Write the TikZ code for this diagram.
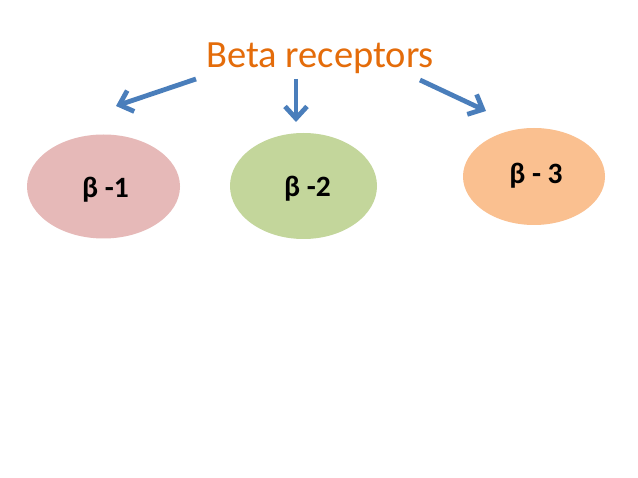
\documentclass[tikz,border=0pt]{standalone}
\usepackage{fontspec}
\setmainfont{Carlito}
\usetikzlibrary{arrows.meta}
\definecolor{titleorange}{HTML}{E46C0A}
\definecolor{arrowblue}{HTML}{4A7EBB}
\definecolor{pinkfill}{HTML}{E6B9B8}
\definecolor{greenfill}{HTML}{C3D69B}
\definecolor{orangefill}{HTML}{FAC090}
\begin{document}
\begin{tikzpicture}[x=1pt,y=-1pt,
  lbl/.style={font=\fontsize{29.5}{29.5}\selectfont\bfseries,anchor=base,inner sep=0pt},
  conn/.style={draw=arrowblue,line width=4.8pt,-{Straight Barb[length=12pt,width=22pt,line cap=butt]}}]
\useasboundingbox[fill=white] (0,0) rectangle (638,478);
\fill[pinkfill] (103.5,186.5) ellipse [x radius=76.5, y radius=52];
\fill[greenfill] (303.5,186) ellipse [x radius=73.5, y radius=53];
\fill[orangefill] (534,176.5) ellipse [x radius=71, y radius=48.5];
\node[lbl] (b1) at (105.5,197.5) {β -1};
\node[lbl] (b2) at (307.5,197) {β -2};
\node[lbl] (b3) at (536,184) {β - 3};
\node[anchor=base,inner sep=0pt,text=titleorange,font=\fontsize{38.5}{38.5}\selectfont] (title) at (320,68) {Beta receptors};
\coordinate (s1) at (196,79);
\coordinate (e1) at (116,106);
\coordinate (s2) at (296,79);
\coordinate (e2) at (296,122);
\coordinate (s3) at (420,80);
\coordinate (e3) at (486,111);
\draw[conn] (s1) -- (e1);
\draw[conn] (s2) -- (e2);
\draw[conn] (s3) -- (e3);
\end{tikzpicture}
\end{document}
